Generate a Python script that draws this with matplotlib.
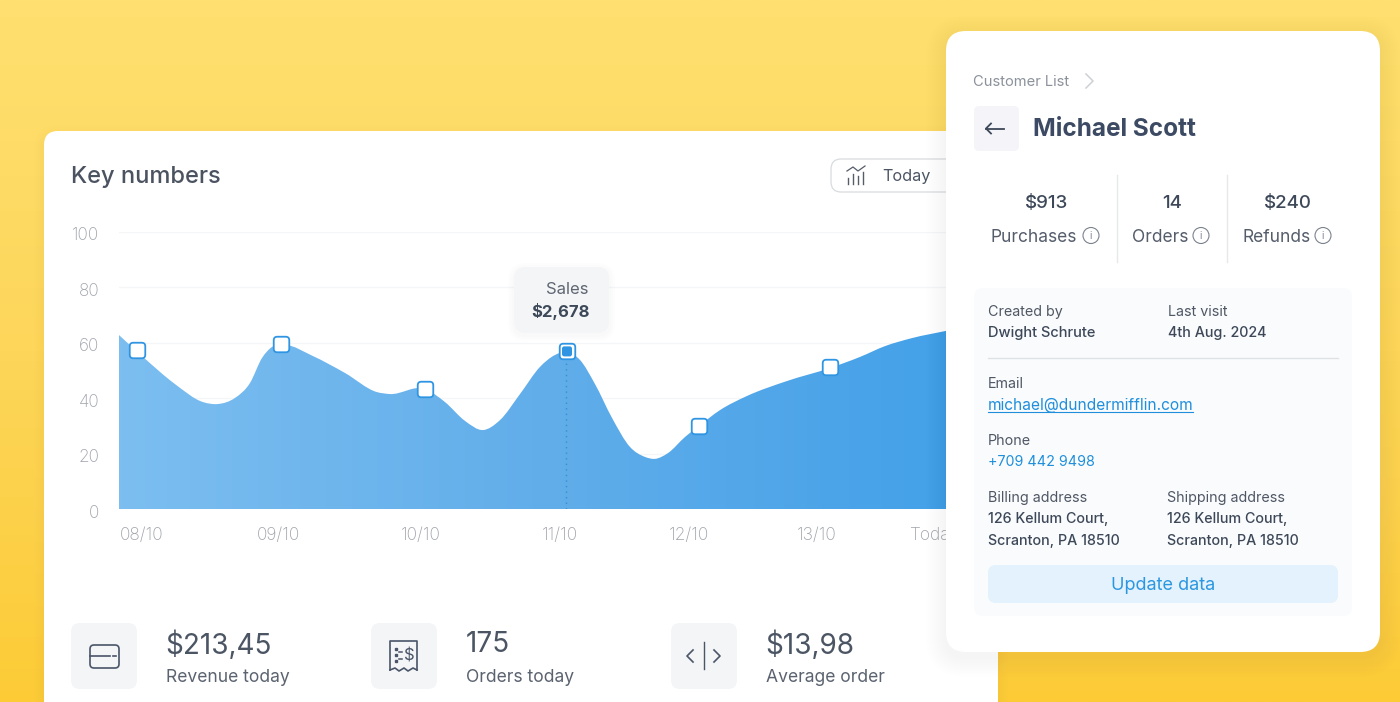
import numpy as np
import matplotlib
matplotlib.use("Agg")
import matplotlib.pyplot as plt
from matplotlib.colors import LinearSegmentedColormap
from matplotlib.patches import FancyBboxPatch, PathPatch, Circle
from matplotlib.path import Path
from matplotlib.transforms import Affine2D

plt.rcParams['font.family'] = ['Inter', 'DejaVu Sans']

# chart data
y_ticks = [0, 20, 40, 60, 80, 100]
x_tick_pos = [23, 159, 302, 441, 570, 698, 815]
x_tick_labels = ['08/10', '09/10', '10/10', '11/10', '12/10', '13/10', 'Today']

curve_x = [0, 24, 56, 84, 99, 116, 131, 143, 153, 166, 194, 226, 258, 271, 306, 326, 346, 364, 381, 401,
           421, 436, 448, 461, 476, 493, 511, 526, 536, 549, 566, 580, 601, 628, 668, 711, 741, 766, 793, 827]
curve_y = [62.8, 54.9, 45.1, 38.6, 37.9, 40.1, 45.5, 54.5, 58.5, 59.2, 55.2, 49.1, 42.2, 41.5, 43.3, 38.6,
           31.8, 28.5, 32.1, 41.5, 51.3, 55.6, 56.7, 53.8, 45.1, 32.9, 22.4, 18.8, 18.1, 20.2, 26.0, 30.0,
           35.7, 40.8, 46.2, 50.9, 54.9, 58.8, 61.7, 64.3]

marker_x = [18, 162, 306, 580, 711]
marker_y = [57.4, 59.7, 43.3, 30.0, 51.3]
active_x = 448
active_y = 56.9

# text content
tile_values = ['$213,45', '175', '$13,98']
tile_labels = ['Revenue today', 'Orders today', 'Average order']
stat_values = ['$913', '14', '$240']
stat_labels = ['Purchases', 'Orders', 'Refunds']

DARK = '#3d4859'
GREY = '#4f5765'
BLUE = '#1f8fdc'

W, H = 1400, 702
fig = plt.figure(figsize=(W / 100, H / 100), dpi=100)


def pixel_axes(z):
    a = fig.add_axes([0, 0, 1, 1], zorder=z)
    a.set_xlim(0, W)
    a.set_ylim(H, 0)
    a.axis('off')
    a.patch.set_alpha(0)
    return a


def rbox(a, x, y, w, h, r, fc, ec='none', lw=0, z=2):
    p = FancyBboxPatch((x, y), w, h, boxstyle=f'round,pad=0,rounding_size={r}', fc=fc, ec=ec, lw=lw, zorder=z)
    a.add_patch(p)
    return p


def shadow(a, x, y, w, h, r, spread=24, alpha=0.012, dy=4, z=1.5):
    for s in range(spread, 0, -2):
        rbox(a, x - s, y - s + dy, w + 2 * s, h + 2 * s, r + s, (0.2, 0.25, 0.3, alpha), z=z)


def smooth_path(xs, ys):
    # hermite segments through the points, slopes from the neighbours
    xs = np.array(xs, float)
    ys = np.array(ys, float)
    m = np.gradient(ys, xs)
    verts = [(xs[0], ys[0])]
    codes = [Path.MOVETO]
    for i in range(len(xs) - 1):
        dx = xs[i + 1] - xs[i]
        verts.append((xs[i] + dx / 3, ys[i] + m[i] * dx / 3))
        verts.append((xs[i + 1] - dx / 3, ys[i + 1] - m[i + 1] * dx / 3))
        verts.append((xs[i + 1], ys[i + 1]))
        codes += [Path.CURVE4] * 3
    verts += [(xs[-1], 0), (xs[0], 0), (xs[0], ys[0])]
    codes += [Path.LINETO, Path.LINETO, Path.CLOSEPOLY]
    return Path(verts, codes)


def round_square():
    r = 0.45
    v = [(-1 + r, -1), (1 - r, -1), (1, -1), (1, -1 + r), (1, 1 - r), (1, 1), (1 - r, 1), (-1 + r, 1), (-1, 1),
         (-1, 1 - r), (-1, -1 + r), (-1, -1), (-1 + r, -1)]
    c = [Path.MOVETO, Path.LINETO, Path.CURVE3, Path.CURVE3, Path.LINETO, Path.CURVE3, Path.CURVE3, Path.LINETO,
         Path.CURVE3, Path.CURVE3, Path.LINETO, Path.CURVE3, Path.CURVE3]
    return Path(v, c)


# ---------- background layer
bg = pixel_axes(0)
yellow = LinearSegmentedColormap.from_list('y', ['#ffe070', '#fdd65a', '#fccb36'])
bg.imshow(np.linspace(0, 1, 256).reshape(-1, 1), cmap=yellow, extent=[0, W, H, 0], aspect='auto', zorder=0)
bg.set_xlim(0, W)
bg.set_ylim(H, 0)
shadow(bg, 44, 131, 954, 640, 14, spread=10, alpha=0.005)
rbox(bg, 44, 131, 954, 640, 14, 'white')

bg.text(71, 177, 'Key numbers', fontsize=17, color='#4b5260', va='center', fontweight='medium', zorder=3)

for i, tx in enumerate([71, 371, 671]):
    rbox(bg, tx, 623, 66, 66, 9, '#f3f5f7', z=3)
    bg.text(tx + 94.5, 645, tile_values[i], fontsize=20.1, color='#4b5563', va='center', zorder=3)
    bg.text(tx + 94.5, 678, tile_labels[i], fontsize=12.6, color='#5b6370', va='center', zorder=3)

# tile icons
ICON = '#4a5568'
rbox(bg, 90, 645, 29, 23, 4, 'none', ec=ICON, lw=1.2, z=4)
bg.plot([90, 110], [656, 656], color=ICON, lw=1.2, zorder=4)
bg.plot([113, 116], [656, 656], color=ICON, lw=1.2, zorder=4)
bg.plot([390, 390, 417, 417], [670, 641, 641, 670], color=ICON, lw=1.2, zorder=4)
bg.plot([390, 395, 399, 404, 408, 413, 417], [670, 668, 671, 668, 671, 668, 670], color=ICON, lw=1.2, zorder=4)
bg.plot([396, 396, 396], [649, 655, 661], ls='none', marker='s', ms=1.5, color=ICON, zorder=4)
bg.plot([399, 402], [652, 652], color=ICON, lw=1.1, zorder=4)
bg.plot([399, 402], [659, 659], color=ICON, lw=1.1, zorder=4)
bg.text(409, 656, '$', fontsize=12, color=ICON, ha='center', va='center', zorder=4)
bg.plot([693, 687, 693], [650, 656, 662], color=ICON, lw=1.2, zorder=4)
bg.plot([714, 720, 714], [650, 656, 662], color=ICON, lw=1.2, zorder=4)
bg.plot([703.5, 703.5], [642, 669], color=ICON, lw=1.0, zorder=4)

# ---------- chart
ax = fig.add_axes([119 / W, 1 - 509 / H, 827 / W, 277 / H], zorder=1)
ax.patch.set_alpha(0)
ax.set_xlim(0, 827)
ax.set_ylim(0, 100)
for s in ax.spines.values():
    s.set_visible(False)

area = PathPatch(smooth_path(curve_x, curve_y), fc='none', ec='none', transform=ax.transData)
ax.add_patch(area)
blues = LinearSegmentedColormap.from_list('b', ['#7cbef0', '#62aeea', '#44a1e8'])
im = ax.imshow(np.linspace(0, 1, 256).reshape(1, -1), cmap=blues, extent=[0, 827, 0, 100], aspect='auto', zorder=2)
im.set_clip_path(area)
ax.set_xlim(0, 827)
ax.set_ylim(0, 100)

ax.set_yticks(y_ticks)
ax.set_xticks(x_tick_pos)
ax.set_xticklabels(x_tick_labels)
ax.tick_params(axis='y', length=0, pad=14, labelsize=12.4, labelcolor='#9ea2a9')
ax.tick_params(axis='x', length=0, pad=13, labelsize=12.5, labelcolor='#9ea2a9')
ax.grid(axis='y', color='#f5f6f7', lw=1)
ax.set_axisbelow(True)
for lbl in ax.get_yticklabels() + ax.get_xticklabels():
    lbl.set_fontweight('light')
for lbl in ax.get_yticklabels():
    lbl.set_transform(lbl.get_transform() + Affine2D().translate(0, -2))

ax.vlines(active_x - 1, 0, active_y, color='#3a8dd0', lw=1.0, ls=(0, (1, 3)), zorder=3)
sq = round_square()
ax.scatter(marker_x, marker_y, marker=sq, s=125, fc='white', ec='#2f95e3', lw=1.3, zorder=5, clip_on=False)
ax.scatter([active_x], [active_y], marker=sq, s=125, fc='white', ec='#2f95e3', lw=1.3, zorder=5)
ax.scatter([active_x], [active_y], marker=sq, s=52, fc='#2f95e3', ec='none', zorder=6)

# ---------- front layer
fg = pixel_axes(2)

# tooltip
shadow(fg, 514, 267, 95, 66, 12, spread=6, alpha=0.006, dy=2, z=1)
rbox(fg, 514, 267, 95, 66, 12, '#f3f5f7', z=2)
fg.text(567, 289, 'Sales', fontsize=12, color='#5f6672', ha='center', va='center', zorder=3)
fg.text(560, 312, '$2,678', fontsize=12, color=DARK, ha='center', va='center', fontweight='bold', zorder=3)

# today button
rbox(fg, 831, 159, 160, 33, 10, 'white', ec='#d8dbdf', lw=0.9, z=2)
for bx, by in zip([848, 853, 858, 863], [178, 174, 176, 172]):
    fg.plot([bx, bx], [by, 184], color='#555d69', lw=1.0, zorder=3)
fg.plot([847, 853, 858, 865], [171, 167, 171, 166], color='#555d69', lw=0.9, zorder=3)
fg.text(882, 177, 'Today', fontsize=11.7, color='#4b5563', va='center', zorder=3)

# customer card
shadow(fg, 946, 31, 434, 621, 20, spread=20, alpha=0.005, dy=5, z=4)
rbox(fg, 946, 31, 434, 621, 20, 'white', z=5)

fg.text(973, 82, 'Customer List', fontsize=10.6, color='#8c929b', va='center', zorder=6)
fg.plot([1086, 1093, 1086], [74, 81, 88], color='#ccd0d4', lw=1.1, zorder=6)
rbox(fg, 974, 106, 45, 45, 5, '#f5f5f9', z=6)
fg.plot([1003.5, 986], [128.5, 128.5], color=DARK, lw=1.3, zorder=7)
fg.plot([991, 986, 991], [123.5, 128.5, 133.5], color=DARK, lw=1.3, zorder=7)
fg.text(1033, 130, 'Michael Scott', fontsize=17.5, color='#3c4a63', va='center', fontweight='bold', zorder=6)

for x, v in zip([1047, 1172, 1288], stat_values):
    fg.text(x, 203, v, fontsize=13.5, color=DARK, ha='center', va='center', fontweight='medium', zorder=6)
for x, ix, t in zip([991, 1132, 1242], [1091, 1201, 1323], stat_labels):
    fg.text(x, 237, t, fontsize=12.5, color='#555d6b', va='center', zorder=6)
    fg.add_patch(Circle((ix, 235.5), 8, fc='none', ec='#7b828c', lw=0.8, zorder=6))
    fg.text(ix, 236, 'i', fontsize=7, color='#7b828c', ha='center', va='center', zorder=6)
for x in [1117, 1227]:
    fg.plot([x, x], [175, 262], color='#e6e8ea', lw=1, zorder=6)

# details panel
rbox(fg, 974, 288, 378, 328, 9, '#fafbfc', z=6)
fg.plot([988, 1338], [358, 358], color='#dfe2e5', lw=1, zorder=7)


def label(x, y, t, color=GREY, weight='normal', size=10.3):
    return fg.text(x, y + 1, t, fontsize=size, color=color, va='center', fontweight=weight, zorder=7)


label(988, 311, 'Created by')
label(988, 332, 'Dwight Schrute', DARK, 'medium', 10.5)
label(1168, 311, 'Last visit')
label(1168, 332, '4th Aug. 2024', DARK, 'medium')
label(988, 383, 'Email')
label(988, 404, 'michael@dundermifflin.com', BLUE, size=11.15)
fg.plot([988, 1193], [412, 412], color=BLUE, lw=0.8, zorder=7)
label(988, 440, 'Phone')
label(988, 461, '+709 442 9498', BLUE)
label(988, 497, 'Billing address')
label(1167, 497, 'Shipping address')
for x in [988, 1167]:
    label(x, 518, '126 Kellum Court,', DARK, 'medium')
    label(x, 540, 'Scranton, PA 18510', DARK, 'medium')
rbox(fg, 988, 565, 350, 38, 8, '#e3f2fd', z=7)
fg.text(1163, 585, 'Update data', fontsize=13, color='#2b97e0', ha='center', va='center', zorder=8)

fig.savefig('out.png', dpi=100)
